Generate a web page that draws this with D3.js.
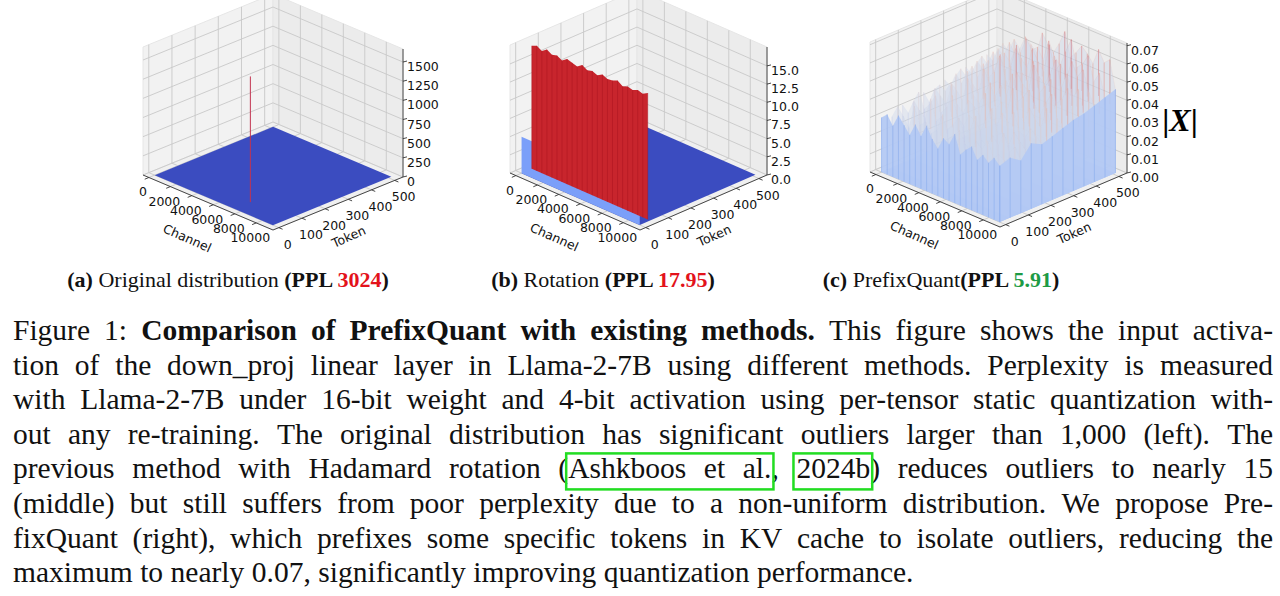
<!DOCTYPE html>
<html><head><meta charset="utf-8">
<script src="https://cdn.jsdelivr.net/npm/d3@7"></script>
<style>body{margin:0;background:#fff}svg{display:block}
.serif{font-family:"Liberation Serif","Times New Roman",serif}</style>
</head><body>
<svg id="c" width="1280" height="596"></svg>
<script>
// ---------- data ----------
const channelTicks=[0,2000,4000,6000,8000,10000];
const tokenTicks=[0,100,200,300,400,500];
const p1ZTicks=[0,250,500,750,1000,1250,1500];
const p2ZTicks=[0,2.5,5,7.5,10,12.5,15];
const p3ZTicks=[0,0.01,0.02,0.03,0.04,0.05,0.06,0.07];
const p1SpikeChannel=[7400];
const p1SpikeToken=[70];
const p1SpikeValue=[1640];
const p2BlueToken=0, p2BlueValue=5.0;
const p2RedToken=45;
const p2RedChannels=[0,470,940,1410,1880,2350,2820,3290,3760,4230,4700,5170,5640,6110,6580,7050,7520,7990,8460,8930,9400,9870,10340,10800];
const p2RedValues=[16.9,17.2,16.8,17.3,16.9,17.1,16.7,17.2,17.0,16.8,17.3,16.9,17.1,16.8,17.2,16.9,17.0,17.3,16.8,17.1,16.9,17.2,17.0,17.4];
const p3Channels=[0,524,1048,1573,2097,2621,3145,3670,4194,4718,5242,5766,6291,6815,7339,7863,8387,8912,9436,9960,10484,11008];
const p3Tokens=[0,46,93,139,186,232,279,325,372,418,465,511];
const p3Values=[
[.030,.033,.028,.035,.031,.027,.034,.029,.036,.030,.026,.033,.031,.038,.028,.032,.035,.029,.033,.030,.034,.031],
[.028,.035,.031,.026,.039,.030,.033,.028,.031,.041,.029,.032,.036,.030,.027,.034,.031,.037,.029,.032,.030,.033],
[.032,.029,.037,.033,.030,.042,.031,.035,.029,.033,.038,.030,.034,.043,.031,.029,.036,.032,.040,.031,.035,.029],
[.031,.038,.030,.034,.040,.032,.036,.044,.033,.030,.037,.035,.031,.039,.046,.033,.035,.030,.038,.034,.031,.036],
[.034,.030,.039,.036,.033,.045,.035,.032,.040,.038,.034,.048,.036,.033,.041,.037,.044,.035,.032,.039,.036,.033],
[.033,.037,.035,.041,.038,.034,.047,.039,.036,.043,.050,.037,.042,.039,.052,.038,.036,.045,.040,.037,.049,.035],
[.036,.034,.042,.038,.046,.040,.037,.051,.044,.039,.046,.042,.055,.041,.045,.050,.043,.039,.047,.053,.041,.037],
[.035,.041,.038,.045,.040,.049,.043,.047,.058,.045,.041,.052,.047,.044,.060,.046,.051,.056,.044,.048,.055,.039],
[.038,.036,.044,.041,.047,.043,.052,.046,.049,.062,.048,.045,.057,.050,.047,.054,.063,.049,.058,.046,.052,.040],
[.037,.043,.040,.048,.044,.050,.046,.055,.051,.047,.059,.053,.049,.065,.052,.057,.050,.061,.054,.059,.048,.042],
[.040,.038,.046,.043,.052,.047,.049,.058,.053,.056,.050,.062,.055,.051,.060,.068,.054,.057,.063,.050,.056,.044],
[.039,.045,.042,.050,.046,.054,.051,.048,.060,.055,.052,.058,.066,.053,.057,.062,.059,.055,.064,.058,.061,.046]];
const subCaptions=[
 [{t:"(a)",b:1},{t:" Original distribution "},{t:"(PPL ",b:1},{t:"3024",b:1,c:"#e3121b"},{t:")",b:1}],
 [{t:"(b)",b:1},{t:" Rotation "},{t:"(PPL ",b:1},{t:"17.95",b:1,c:"#e3121b"},{t:")",b:1}],
 [{t:"(c)",b:1},{t:" PrefixQuant"},{t:"(PPL ",b:1},{t:"5.91",b:1,c:"#1e9b45"},{t:")",b:1}]];
const captionLines=[
 "Figure 1: **Comparison **of **PrefixQuant **with **existing **methods.** This figure shows the input activa-",
 "tion of the down_proj linear layer in Llama-2-7B using different methods. Perplexity is measured",
 "with Llama-2-7B under 16-bit weight and 4-bit activation using per-tensor static quantization with-",
 "out any re-training. The original distribution has significant outliers larger than 1,000 (left). The",
 "previous method with Hadamard rotation (Ashkboos et al., 2024b) reduces outliers to nearly 15",
 "(middle) but still suffers from poor perplexity due to a non-uniform distribution. We propose Pre-",
 "fixQuant (right), which prefixes some specific tokens in KV cache to isolate outliers, reducing the",
 "maximum to nearly 0.07, significantly improving quantization performance."];

// ---------- layout ----------
const svg=d3.select("#c");
const panels=[
 {L:[143,175],B:[273,230],R:[403,177],H:128,zmax:1670,ticks:p1ZTicks,fmt:d3.format("d"),cx:228},
 {L:[510,173],B:[640,230],R:[767,175],H:128,zmax:17.6,ticks:p2ZTicks,fmt:d3.format(".1f"),cx:603},
 {L:[870,172],B:[1000,227],R:[1127,173],H:130,zmax:0.0715,ticks:p3ZTicks,fmt:d3.format(".2f"),cx:941}];
const C0=-550,C1=11558,T0=-25,T1=536;
const coolwarm=d3.interpolateRgbBasis(["#3b4cc0","#7b9ff9","#c0d4f5","#f2cbb7","#ee8468","#b40426"]);
function makeProj(p){
  const a=d3.scaleLinear().domain([C0,C1]).range([0,1]);
  const b=d3.scaleLinear().domain([T0,T1]).range([0,1]);
  const z=d3.scaleLinear().domain([0,p.zmax]).range([0,p.H]);
  return (c,t,v)=>{const A=a(c),Bv=b(t);return [p.L[0]+A*(p.B[0]-p.L[0])+Bv*(p.R[0]-p.B[0]), p.L[1]+A*(p.B[1]-p.L[1])+Bv*(p.R[1]-p.B[1])-z(v)];};
}
const line=d3.line();
function drawBox(g,p,P){
  const zt=p.zmax;
  g.append("path").attr("d",line([P(C0,T0,0),P(C0,T1,0),P(C0,T1,zt),P(C0,T0,zt)])+"Z").attr("fill","#f2f2f2").attr("stroke","#e6e6e6");
  g.append("path").attr("d",line([P(C0,T1,0),P(C1,T1,0),P(C1,T1,zt),P(C0,T1,zt)])+"Z").attr("fill","#ececec").attr("stroke","#e6e6e6");
  g.append("path").attr("d",line([P(C0,T0,0),P(C1,T0,0),P(C1,T1,0),P(C0,T1,0)])+"Z").attr("fill","#f0f0f0").attr("stroke","#e6e6e6");
  const gl=(pts)=>g.append("path").attr("d",line(pts)).attr("stroke","#c8c8c8").attr("stroke-width",0.9).attr("fill","none");
  p.ticks.forEach(v=>{gl([P(C0,T0,v),P(C0,T1,v),P(C1,T1,v)]);});
  tokenTicks.forEach(t=>{gl([P(C0,t,0),P(C0,t,zt)]);gl([P(C0,t,0),P(C1,t,0)]);});
  channelTicks.forEach(c=>{gl([P(c,T1,0),P(c,T1,zt)]);gl([P(c,T0,0),P(c,T1,0)]);});
}
function drawAxes(g,p,P){
  const al=(pts)=>g.append("path").attr("d",line(pts)).attr("fill","none").attr("stroke","#333").attr("stroke-width",0.9);
  al([P(C0,T0,0),P(C1,T0,0)]);al([P(C1,T0,0),P(C1,T1,0)]);al([P(C1,T1,0),P(C1,T1,p.zmax)]);
  const tx=(x,y,s,anchor)=>g.append("text").attr("x",x).attr("y",y).attr("text-anchor",anchor).attr("font-family","DejaVu Sans").attr("font-size","12.5px").attr("fill","#111").text(s);
  channelTicks.forEach(c=>{const q=P(c,T0,0);al([q,P(c,T0-18,0)]);tx(q[0]-6,q[1]+19,String(c),"middle");});
  tokenTicks.forEach(t=>{const q=P(C1,t,0);al([q,P(C1+350,t,0)]);tx(q[0]+9,q[1]+21,String(t),"middle");});
  p.ticks.forEach(v=>{const q=P(C1,T1,v);al([q,[q[0]+4,q[1]-1]]);tx(q[0]+4,q[1]+9,p.fmt(v),"start");});
  const cl=P(C0+6200,T0,0);tx(cl[0]-24,cl[1]+39,"Channel","middle").attr("transform",`rotate(24,${cl[0]-24},${cl[1]+39})`);
  const tl=P(C1,T0+300,0);tx(tl[0]+8,tl[1]+39,"Token","middle").attr("transform",`rotate(-24,${tl[0]+8},${tl[1]+39})`);
}
const projs=panels.map(makeProj);
panels.forEach((p,i)=>{const g=svg.append("g");drawBox(g,p,projs[i]);});

// panel 1
(function(){const P=projs[0],g=svg.append("g");
  g.append("path").attr("d",line([P(0,0,0),P(11008,0,0),P(11008,511,0),P(0,511,0)])+"Z").attr("fill","#3b4cc0");
  p1SpikeChannel.forEach((c,i)=>{g.append("path").attr("d",line([P(c,p1SpikeToken[i],0),P(c,p1SpikeToken[i],p1SpikeValue[i])])).attr("stroke","#c2334f").attr("stroke-width",1);});
})();
// panel 2
(function(){const P=projs[1],g=svg.append("g");
  g.append("path").attr("d",line([P(0,0,0),P(11008,0,0),P(11008,511,0),P(0,511,0)])+"Z").attr("fill","#3b4cc0");
  g.append("path").attr("d",line([P(0,p2BlueToken,0),P(11008,p2BlueToken,0),P(11008,p2BlueToken,p2BlueValue),P(0,p2BlueToken,p2BlueValue)])+"Z").attr("fill","#7b9ff9");
  const n=p2RedChannels.length;
  const top=p2RedChannels.map((c,i)=>P(c,p2RedToken,p2RedValues[i]));
  g.append("path").attr("d",line([P(p2RedChannels[0],p2RedToken,0),...top,P(p2RedChannels[n-1],p2RedToken,0)])+"Z").attr("fill","#c8252d");
  p2RedChannels.forEach((c,i)=>{g.append("path").attr("d",line([P(c,p2RedToken,0),P(c,p2RedToken,p2RedValues[i])])).attr("stroke","#a3101d").attr("stroke-width",0.6).attr("stroke-opacity",0.7);});
})();
// panel 3
(function(){const P=projs[2],g=svg.append("g");
  g.append("path").attr("d",line([P(0,0,0),P(11008,0,0),P(11008,511,0),P(0,511,0)])+"Z").attr("fill","#aac2f3");
  const rows=p3Tokens.map((t,i)=>i).reverse();
  rows.forEach(i=>{const t=p3Tokens[i];const vals=p3Values[i];
    const pts=p3Channels.map((c,j)=>P(c,t,vals[j]));
    g.append("path").attr("d",line([P(0,t,0),...pts,P(11008,t,0)])+"Z").attr("fill",i===0?"#b3c9f4":"#ccd6ec").attr("fill-opacity",i===0?0.92:0.4);
    p3Channels.forEach((c,j)=>{g.append("path").attr("d",line([P(c,t,vals[j]*0.6),P(c,t,vals[j])])).attr("stroke",coolwarm(vals[j]/0.072)).attr("stroke-width",0.8).attr("stroke-opacity",0.5);});
    for(let j=1;j<pts.length;j++)g.append("path").attr("d",line([pts[j-1],pts[j]])).attr("stroke",coolwarm((vals[j-1]+vals[j])/0.15)).attr("stroke-width",0.5).attr("stroke-opacity",0.2);
  });
  const last=p3Channels.length-1;
  const rvals=p3Tokens.map((t,i)=>p3Values[i][last]);
  g.append("path").attr("d",line([P(11008,0,0),...p3Tokens.map((t,i)=>P(11008,t,rvals[i])),P(11008,511,0)])+"Z").attr("fill","#b3c9f4").attr("fill-opacity",0.92);
  p3Tokens.forEach((t,i)=>{g.append("path").attr("d",line([P(11008,t,0),P(11008,t,rvals[i])])).attr("stroke","#8fb0ee").attr("stroke-width",0.7);});
  p3Channels.forEach((c,j)=>{g.append("path").attr("d",line([P(c,0,0),P(c,0,p3Values[0][j])])).attr("stroke","#8fb0ee").attr("stroke-width",0.7);});
})();
panels.forEach((p,i)=>{const g=svg.append("g");drawAxes(g,p,projs[i]);});

// |X|
const xl=svg.append("text").attr("class","serif").attr("x",1180).attr("y",131).attr("text-anchor","middle").attr("font-size","32px").attr("font-weight","bold");
xl.append("tspan").text("|");xl.append("tspan").attr("font-style","italic").text("X");xl.append("tspan").text("|");

// sub captions
subCaptions.forEach((segs,i)=>{
  const t=svg.append("text").attr("class","serif").attr("x",panels[i].cx).attr("y",287).attr("text-anchor","middle").attr("font-size","22px").attr("fill","#111").style("white-space","pre");
  segs.forEach(s=>t.append("tspan").attr("font-weight",s.b?"bold":"normal").attr("fill",s.c||"#111").text(s.t));
});

// caption (justified)
const X0=13,X1=1273,Y0=340,DY=34.6;
const cg=svg.append("g");
let wordEls={};
captionLines.forEach((ln,li)=>{
  const words=[];let bold=false;
  ln.split(" ").forEach(w=>{let b=bold;let txt=w;
    if(txt.startsWith("**")){b=true;txt=txt.slice(2);bold=true;}
    if(txt.endsWith("**")){txt=txt.slice(0,-2);bold=false;}
    words.push({t:txt,b});});
  const els=words.map(w=>cg.append("text").attr("class","serif").attr("font-size","29.5px").attr("fill","#111").attr("y",Y0+li*DY).attr("font-weight",w.b?"bold":"normal").text(w.t));
  const widths=els.map(e=>e.node().getComputedTextLength());
  const total=d3.sum(widths);
  const last=li===captionLines.length-1;
  const sp=last?7.5:(X1-X0-total)/(words.length-1);
  let x=X0;
  els.forEach((e,k)=>{e.attr("x",x);wordEls[li+"_"+words[k].t]={x,w:widths[k]};x+=widths[k]+sp;});
});
(function(){
  const a=wordEls["4_(Ashkboos"],al=wordEls["4_al.,"],y=wordEls["4_2024b)"];
  const measure=s=>{const t=cg.append("text").attr("class","serif").attr("font-size","29.5px").text(s);const w=t.node().getComputedTextLength();t.remove();return w;};
  const pw=measure("("),cw=measure(","),bw=measure(")");
  const yb=Y0+4*DY;
  cg.append("rect").attr("x",a.x+pw-2).attr("y",yb-25).attr("width",al.x+al.w-cw-(a.x+pw)+4).attr("height",36).attr("fill","none").attr("stroke","#22dd22").attr("stroke-width",2.5);
  cg.append("rect").attr("x",y.x-3).attr("y",yb-25).attr("width",y.w-bw+5).attr("height",36).attr("fill","none").attr("stroke","#22dd22").attr("stroke-width",2.5);
})();
</script></body></html>
